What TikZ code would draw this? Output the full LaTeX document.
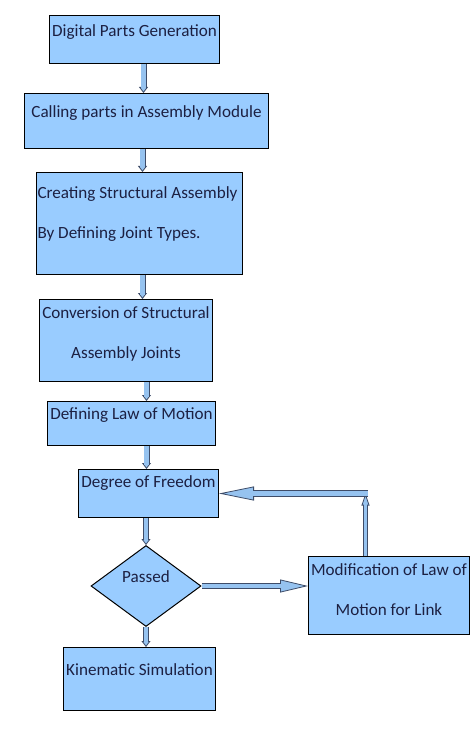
\documentclass[tikz,border=0pt]{standalone}
\usepackage{fontspec}
\setmainfont{Carlito}
\usepackage{xcolor}
\usepackage{tikz}
\usetikzlibrary{shapes.geometric,arrows.meta}
\definecolor{boxfill}{RGB}{153,204,255}
\definecolor{textcol}{RGB}{28,32,66}
\definecolor{edgecol}{RGB}{62,76,104}
\definecolor{flowfill}{RGB}{150,195,240}

\begin{document}
\begin{tikzpicture}[x=1pt, y=-1pt,
                box/.style={draw=black, line width=1pt, fill=boxfill, rectangle, anchor=north west, inner xsep=1pt, inner ysep=0pt, text=textcol, font=\fontsize{17.1}{40}\selectfont, align=center, execute at begin node={\spaceskip=0pt\xspaceskip=0pt\relax}},
                flow/.style n args={4}{draw=edgecol, line width=#3, -{Triangle[length=#1, width=#2, line width=0.8pt, fill=flowfill]}, postaction={draw=flowfill, line width=#4, -, shorten >=#1-1.5pt}},
                vflow/.style={flow={6pt}{9pt}{6pt}{4.2pt}},
                hflow/.style={flow={28pt}{13pt}{6pt}{4.2pt}}]
                \useasboundingbox (0,0) rectangle (474,735);

                \node[box, minimum width=170pt, text height=21pt, text depth=27pt] (gen) at (49,15) {Digital Parts Generation};
                \node[box, minimum width=244pt, text height=24pt, text depth=31pt] (call) at (24,93) {Calling parts in Assembly Module};
                \node[box, align=left, text width=204pt, text height=26pt, text depth=76pt] (struct) at (36,172) {\mbox{Creating Structural Assembly}\\\mbox{By Defining Joint Types.}};
                \node[box, text width=171pt, text height=19pt, text depth=63pt] (conv) at (39,299) {\mbox{Conversion of Structural}\\\mbox{Assembly Joints}};
                \node[box, minimum width=168pt, text height=18pt, text depth=26pt] (law) at (47,401) {Defining Law of Motion};
                \node[box, minimum width=140pt, text height=18pt, text depth=30pt] (dof) at (78,469) {Degree of Freedom};
                \node[draw=black, line width=1pt, fill=boxfill, diamond, aspect=1.36, minimum width=110pt, minimum height=81pt, inner sep=0pt, text height=12pt, text depth=20pt, text=textcol, font=\fontsize{17.1}{40}\selectfont] (pass) at (146,586) {Passed};
                \node[box, text width=159pt, text height=19pt, text depth=59pt] (modif) at (308,556) {\mbox{Modification of Law of}\\\mbox{Motion for Link}};
                \node[box, minimum width=152pt, text height=28pt, text depth=35pt] (sim) at (63,647) {Kinematic Simulation};

                \coordinate (turn) at ([xshift=-23.5pt]modif.north |- dof.east);

                \draw[vflow] ([xshift=9pt]gen.south) -- ([xshift=9pt]gen.south |- call.north);
                \draw[vflow] ([xshift=-4pt]call.south) -- ([xshift=-4pt]call.south |- struct.north);
                \draw[vflow] ([xshift=3pt]struct.south) -- ([xshift=3pt]struct.south |- conv.north);
                \draw[vflow] ([xshift=20.5pt]conv.south) -- ([xshift=20.5pt]conv.south |- law.north);
                \draw[vflow] ([xshift=15pt]law.south) -- ([xshift=15pt]law.south |- dof.north);
                \draw[vflow] (pass.north |- dof.south) -- (pass.north);
                \draw[vflow] (pass.south) -- (pass.south |- sim.north);
                \draw[hflow] (pass.east) -- (pass.east -| modif.west);
                \draw[flow={12pt}{8pt}{5pt}{3.4pt}] ([xshift=-23.5pt]modif.north) -- (turn);
                \draw[flow={35pt}{14pt}{7pt}{5.2pt}] ([xshift=2.5pt]turn) -- (turn -| dof.east);
            \end{tikzpicture}
\end{document}
